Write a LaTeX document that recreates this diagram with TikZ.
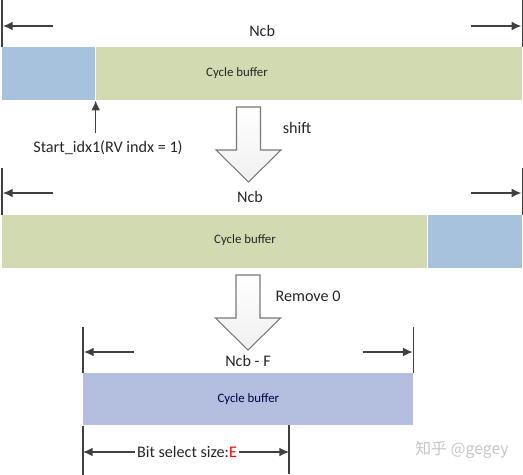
\documentclass[tikz,border=0pt]{standalone}
\usepackage{fontspec}
\setmainfont{Carlito}
\newfontfamily\cjkfont{Noto Sans CJK SC}
\usetikzlibrary{arrows.meta,positioning,calc}
\definecolor{idxblue}{RGB}{166,194,220}
\definecolor{bufgreen}{RGB}{210,218,178}
\definecolor{buflilac}{RGB}{180,190,222}
\definecolor{linegray}{RGB}{64,64,64}
\definecolor{arrowgray}{RGB}{120,120,120}
\tikzset{hollow/.pic={
    \draw[arrowgray, line width=0.6pt, top color=white, bottom color=gray!12]
      (-12,0) -- (12,0) -- (12,43) -- (32.5,43) -- (0,75) -- (-32.5,43) -- (-12,43) -- cycle;}}

\begin{document}
\begin{tikzpicture}[x=0.02cm, y=-0.02cm, >={Latex[length=5.5pt,width=5pt]},
   bar/.style={rectangle, anchor=north west, inner sep=0pt, minimum height=1.06cm},
   buftext/.style={font=\fontsize{7.3}{9}\selectfont, text=black!85},
   tick/.style={draw=linegray, line width=0.9pt},
   dim/.style={draw=linegray, line width=0.7pt},
   lbl/.style={font=\fontsize{9.2}{11}\selectfont, text=black!85},
   every text node part/.style={align=center}]

    \useasboundingbox (0,0) rectangle (523,474);

    % first buffer
    \node [bar, fill=idxblue, minimum width=1.86cm] (idx1) at (2,47) {};
    \node [bar, fill=bufgreen, minimum width=8.52cm, right=0pt of idx1] (buf1) {};
    \node [buftext] (cb1) at (237,73) {Cycle buffer};
    \draw [tick] (idx1.north west) -- +(0,-47);
    \draw [tick] (buf1.north east) -- +(0,-47);
    \draw [dim,<-] ($(idx1.north west)+(1,-21)$) -- +(50,0);
    \draw [dim,->] ($(buf1.north east)+(-51,-21)$) -- +(50,0);
    \node [lbl] (ncb1) at ($(idx1.north west)!0.5!(buf1.north east)+(0,-16)$) {Ncb};

    \node [lbl] (start) at (108,148) {Start\_idx1(RV indx = 1)};
    \draw [dim,->] ($(start.north -| idx1.south east)+(0,-2)$) -- (idx1.south east);

    \pic at (248.5,107) {hollow};
    \node [lbl] (shift) at (297,128) {shift};

    % after shift
    \node [bar, fill=bufgreen, minimum width=8.5cm] (buf2) at (2,215) {};
    \node [bar, fill=idxblue, minimum width=1.88cm, right=0pt of buf2] (idx2) {};
    \node [buftext] (cb2) at (245,240) {Cycle buffer};
    \draw [tick] (buf2.north west) -- +(0,-47);
    \draw [tick] (idx2.north east) -- +(0,-47);
    \draw [dim,<-] ($(buf2.north west)+(1,-22)$) -- +(50,0);
    \draw [dim,->] ($(idx2.north east)+(-51,-22)$) -- +(50,0);
    \node [lbl] (ncb2) at (250,197) {Ncb};

    \pic at (248,275) {hollow};
    \node [lbl] (remove) at (308,296) {Remove 0};

    % after removing
    \node [bar, fill=buflilac, minimum width=6.6cm, minimum height=1.04cm] (buf3) at (83,373) {};
    \node [buftext, text=blue!25!black] (cb3) at (buf3.center) {Cycle buffer};
    \draw [tick] (buf3.north west) -- +(0,-46);
    \draw [tick] (buf3.north east) -- +(0,-46);
    \draw [dim,<-] ($(buf3.north west)+(1,-21)$) -- +(50,0);
    \draw [dim,->] ($(buf3.north east)+(-51,-21)$) -- +(50,0);
    \node [lbl] (ncbf) at (248,361) {Ncb - F};

    \coordinate (selend) at (289,425);
    \draw [tick] (buf3.south west) -- +(0,49);
    \draw [tick] (selend) -- +(0,49);
    \node [lbl, inner sep=1pt] (bitsel) at (187,452) {Bit select size:\textcolor{red}{E}};
    \draw [dim,->] (bitsel.west) -- (bitsel.west -| buf3.south west);
    \draw [dim,->] (bitsel.east) -- (bitsel.east -| selend);

    \node [text=gray!45, font=\cjkfont\fontsize{9}{11}\selectfont] (mark) at (462,450) {知乎 @gegey};
\end{tikzpicture}
\end{document}
